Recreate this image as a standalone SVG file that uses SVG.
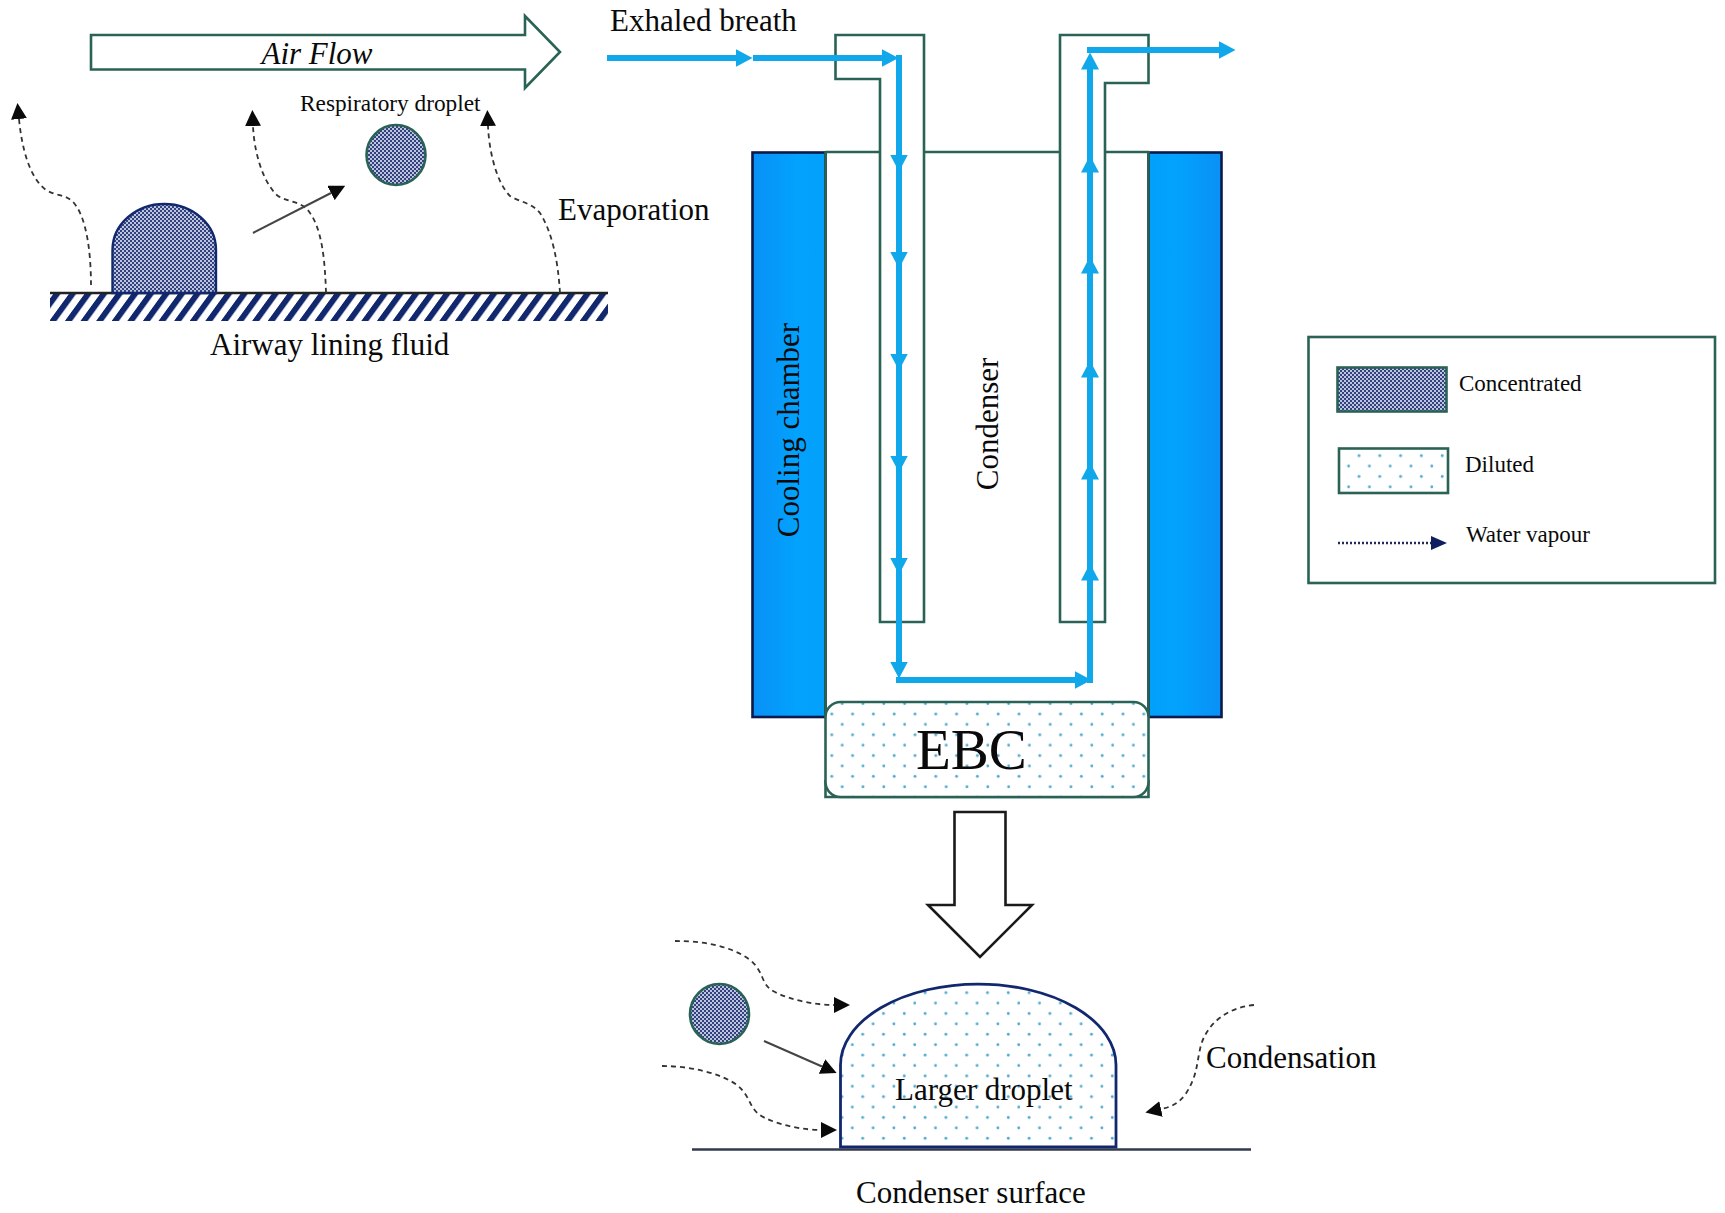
<svg xmlns="http://www.w3.org/2000/svg" width="1725" height="1213" viewBox="0 0 1725 1213">
<style>
text{font-family:"Liberation Serif","Times New Roman",serif;fill:#0a0a0a}
.t31{font-size:31px}.t23{font-size:23px}
.g{fill:none;stroke:#2a6355;stroke-width:2.6}
.gw{fill:#fff;stroke:#2a6355;stroke-width:2.6}
.blue{fill:none;stroke:#10a8ea;stroke-width:6;marker-mid:url(#bh);marker-end:url(#bh)}
.dash{fill:none;stroke:#333;stroke-width:1.8;stroke-dasharray:5 4;marker-end:url(#kh)}
.solid{fill:none;stroke:#444;stroke-width:2;marker-end:url(#kh)}
</style>
<defs>
<marker id="bh" markerUnits="userSpaceOnUse" markerWidth="17" markerHeight="18" viewBox="0 0 17 18" refX="8.5" refY="9" orient="auto"><path d="M0,0 L17,9 L0,18 Z" fill="#10a8ea"/></marker>
<marker id="kh" markerUnits="userSpaceOnUse" markerWidth="16" markerHeight="16" viewBox="0 0 16 16" refX="0" refY="8" orient="auto"><path d="M0,0 L16,8 L0,16 Z" fill="#0a0a0a"/></marker>
<marker id="nh" markerUnits="userSpaceOnUse" markerWidth="16" markerHeight="14" viewBox="0 0 16 14" refX="0" refY="7" orient="auto"><path d="M0,0 L16,7 L0,14 Z" fill="#0d1f60"/></marker>
<pattern id="conc" patternUnits="userSpaceOnUse" width="4" height="4"><rect width="4" height="4" fill="#33417f"/><rect x="0.1" y="0.1" width="1.8" height="1.8" fill="#dde3f5"/><rect x="2.1" y="2.1" width="1.8" height="1.8" fill="#dde3f5"/></pattern>
<pattern id="dots" patternUnits="userSpaceOnUse" width="20.8" height="20.8" patternTransform="translate(868.2 708.8)"><rect width="20.8" height="20.8" fill="#fff"/><circle cx="5.2" cy="5.2" r="1.4" fill="#4fa9cf"/><circle cx="15.6" cy="15.6" r="1.4" fill="#4fa9cf"/></pattern>
<pattern id="dots2" href="#dots" patternTransform="translate(961.5 987.5)"/>
<pattern id="dots3" href="#dots" patternTransform="translate(1353.8 450.5)"/>
<pattern id="hatch" patternUnits="userSpaceOnUse" width="15.6" height="30" patternTransform="translate(54 293) skewX(-36)"><rect width="7.2" height="30" fill="#12286e"/></pattern>
<linearGradient id="chL" x1="0" x2="1" y1="0" y2="0"><stop offset="0" stop-color="#0a90f6"/><stop offset="0.6" stop-color="#02a2fd"/><stop offset="1" stop-color="#03a0fb"/></linearGradient>
<linearGradient id="chR" x1="0" x2="1" y1="0" y2="0"><stop offset="0" stop-color="#03a0fb"/><stop offset="0.4" stop-color="#02a2fd"/><stop offset="1" stop-color="#0a90f6"/></linearGradient>
</defs>
<rect width="1725" height="1213" fill="#fff"/>

<g id="air-flow">
<path class="gw" d="M91,35 H525 V16 L560,52 L525,88 V69.5 H91 Z"/>
<text x="317" y="64" font-size="31" font-style="italic" text-anchor="middle">Air Flow</text>
</g>
<g id="airway-lining">
<rect x="50" y="293" width="558" height="28" fill="url(#hatch)"/>
<path d="M50,293 H608" stroke="#222" stroke-width="2.4" fill="none"/>
<text class="t31" x="210" y="355">Airway lining fluid</text>
</g>
<g id="droplet-source">
<path d="M112.5,293 V250 A51.75,46 0 0 1 216,250 V293 Z" fill="url(#conc)" stroke="#12286e" stroke-width="2.4"/>
</g>
<g id="respiratory-droplet">
<ellipse cx="396" cy="155" rx="29.5" ry="30" fill="url(#conc)" stroke="#2a6355" stroke-width="2.6"/>
<text x="300" y="111" font-size="23.3">Respiratory droplet</text>
</g>
<g id="evaporation"><text class="t31" x="558" y="220">Evaporation</text></g>
<g id="exhaled-breath"><text class="t31" x="610" y="31">Exhaled breath</text></g>

<g id="cooling-chamber-left">
<rect x="752.5" y="152.5" width="73" height="564.5" fill="url(#chL)" stroke="#0b1a4a" stroke-width="2.6"/>
<path class="g" d="M825.5,152 V717"/>
<text class="t31" text-anchor="middle" transform="translate(799 430) rotate(-90)">Cooling chamber</text>
</g>
<g id="cooling-chamber-right">
<rect x="1148.5" y="152.5" width="73" height="564.5" fill="url(#chR)" stroke="#0b1a4a" stroke-width="2.6"/>
<path class="g" d="M1148.5,152 V717"/>
</g>
<g id="condenser">
<path class="g" d="M825.5,152 H880 M924,152 H1060 M1105,152 H1149"/>
<path class="g" d="M835.5,35 H924 V622 H880 V79 H835.5 Z"/>
<path class="g" d="M1060,35 H1148.5 V83 H1105 V622 H1060 Z"/>
<text class="t31" text-anchor="middle" transform="translate(998 424) rotate(-90)">Condenser</text>
</g>
<g id="ebc">
<path class="g" d="M825.5,780 V797 H1148.5 V780"/>
<rect x="825.5" y="702" width="323" height="95" rx="15" fill="url(#dots)" stroke="#2a6355" stroke-width="2.6"/>
<text x="916" y="769" font-size="57">EBC</text>
</g>
<g id="down-arrow">
<path d="M954.5,812 H1005.5 V905 H1032 L980,957 L928,905 H954.5 Z" fill="#fff" stroke="#1a1a1a" stroke-width="2.6"/>
</g>
<g id="larger-droplet">
<path d="M840.5,1147 V1065 A137.75,81 0 0 1 1116,1065 V1147 Z" fill="url(#dots2)" stroke="#12286e" stroke-width="2.8"/>
<text class="t31" x="895" y="1100">Larger droplet</text>
</g>
<g id="incoming-droplet">
<ellipse cx="719.5" cy="1014" rx="29.5" ry="30" fill="url(#conc)" stroke="#2a6355" stroke-width="2.6"/>
</g>
<g id="condenser-surface">
<path d="M692,1149.5 H1251" stroke="#333a50" stroke-width="2.4" fill="none"/>
<text class="t31" x="856" y="1203">Condenser surface</text>
</g>
<g id="condensation"><text class="t31" x="1206" y="1068">Condensation</text></g>
<g id="legend">
<rect x="1308.5" y="337" width="406.5" height="246" class="g"/>
<rect x="1337.5" y="367.5" width="109" height="44" fill="url(#conc)" stroke="#2a6355" stroke-width="2.6"/>
<text class="t23" x="1459" y="391">Concentrated</text>
<rect x="1339" y="448.5" width="109" height="44.5" fill="url(#dots3)" stroke="#2a6355" stroke-width="2.6"/>
<text class="t23" x="1465" y="472">Diluted</text>
<path d="M1338,543 H1431" fill="none" stroke="#222a55" stroke-width="2.4" stroke-dasharray="2 2" marker-end="url(#nh)"/>
<text class="t23" x="1466" y="542">Water vapour</text>
</g>

<g id="connectors">
<path class="blue" d="M607,58 H744"/>
<path class="blue" d="M753,58 H890"/>
<path class="blue" d="M899,55 V163 V260 V362 V464 V566 V670"/>
<path class="blue" d="M896,680 H1083"/>
<path class="blue" d="M1090,683 V572 V471 V369 V265 V164 V61"/>
<path class="blue" d="M1087,50 H1227"/>
<path class="dash" d="M91,285 C91,255 87,215 72,201 C64,194 56,196 46,190 C30,178 22,150 19,119"/>
<path class="dash" d="M326,293 C325,260 322,230 310,213 C302,201 290,203 278,196 C262,182 254,150 253,126"/>
<path class="dash" d="M560,293 C558,260 552,232 540,213 C532,203 520,202 510,196 C496,182 489,150 488,126"/>
<path class="solid" d="M253,233 L331,193"/>
<path class="dash" d="M675,941 C700,941 730,945 750,960 C765,972 760,985 775,992 C790,1000 815,1005 834,1005"/>
<path class="dash" d="M662,1066 C690,1066 720,1073 737,1085 C752,1097 748,1110 765,1118 C782,1126 805,1130 821,1130"/>
<path class="dash" d="M1254,1005 C1225,1008 1207,1025 1201,1045 C1196,1065 1198,1075 1185,1095 C1177,1105 1170,1107 1161,1109"/>
<path class="solid" d="M764,1041 L822,1066.5"/>
</g>
</svg>
